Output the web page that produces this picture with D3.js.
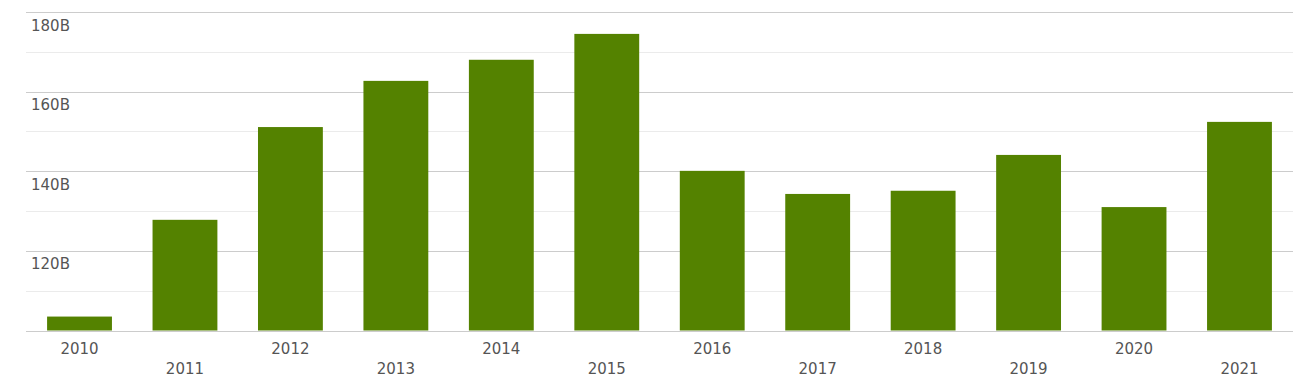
<!DOCTYPE html>
<html>
<head>
<meta charset="utf-8">
<script src="https://cdn.jsdelivr.net/npm/d3@7"></script>
<style>
  body { margin: 0; background: #fff; }
  text { font-family: "DejaVu Sans", sans-serif; }
</style>
</head>
<body>
<svg id="chart" width="1293" height="384"></svg>
<script>
// values in billions
var years = ["2010", "2011", "2012", "2013", "2014", "2015", "2016", "2017", "2018", "2019", "2020", "2021"];
var values = [103.5, 127.8, 151.1, 162.7, 168.0, 174.5, 140.1, 134.3, 135.1, 144.1, 131.0, 152.4];
var majorTicks = [100, 120, 140, 160, 180];
var minorTicks = [110, 130, 150, 170];

var svg = d3.select("#chart");
var plotLeft = 26, plotRight = 1293, plotTop = 12, plotBottom = 330.5;

var x = d3.scaleBand()
	.domain(years)
	.range([plotLeft, plotRight])
	.paddingInner(0.385)
	.paddingOuter(0.2);

var y = d3.scaleLinear()
	.domain([100, 180])
	.range([plotBottom, plotTop]);

// minor gridlines
svg.selectAll(".minor")
	.data(minorTicks)
	.enter().append("line")
	.attr("x1", plotLeft).attr("x2", plotRight)
	.attr("y1", function(d) { return Math.round(y(d)) + 0.5; })
	.attr("y2", function(d) { return Math.round(y(d)) + 0.5; })
	.style("stroke", "#ebebeb");

// major gridlines
svg.selectAll(".major")
	.data(majorTicks)
	.enter().append("line")
	.attr("x1", plotLeft).attr("x2", plotRight)
	.attr("y1", function(d) { return Math.round(y(d)) + 0.5; })
	.attr("y2", function(d) { return Math.round(y(d)) + 0.5; })
	.style("stroke", "#cccccc");

// bars
svg.selectAll(".bar")
	.data(values)
	.enter().append("rect")
	.attr("x", function(d, i) { return x(years[i]); })
	.attr("width", x.bandwidth())
	.attr("y", function(d) { return y(d); })
	.attr("height", function(d) { return y(100) - y(d); })
	.style("fill", "#548200");

// y labels (skip the baseline)
svg.selectAll(".ylab")
	.data(majorTicks.filter(function(d) { return d > 100; }))
	.enter().append("text")
	.attr("x", 31)
	.attr("y", function(d) { return y(d) + 18.5; })
	.style("font-size", "15px")
	.style("fill", "#555")
	.text(function(d) { return d + "B"; });

// x labels, staggered
svg.selectAll(".xlab")
	.data(years)
	.enter().append("text")
	.attr("x", function(d) { return x(d) + x.bandwidth() / 2; })
	.attr("y", function(d, i) { return i % 2 == 0 ? 353.5 : 373.5; })
	.attr("text-anchor", "middle")
	.style("font-size", "15px")
	.style("fill", "#555")
	.text(function(d) { return d; });
</script>
</body>
</html>
